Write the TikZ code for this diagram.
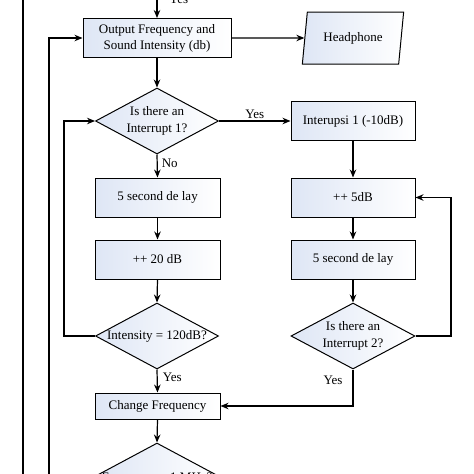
\documentclass[tikz,border=0pt]{standalone}
\usepackage{fontspec}
\setmainfont{Liberation Serif}
\usetikzlibrary{shapes.geometric,arrows.meta}
\definecolor{boxl}{RGB}{222,230,245}
\tikzset{
  every picture/.style={x=1pt,y=-1pt},
  flow/.style={line width=1.2pt,-{Stealth[length=8pt,width=6.5pt]}},
  plain/.style={line width=1.2pt},
  procbox/.style={draw,line width=1pt,left color=boxl,right color=white,minimum width=#1,inner sep=0pt,align=center,font=\fontsize{13}{16}\selectfont},
  decbox/.style={draw,line width=1pt,diamond,left color=boxl,right color=white,minimum width=123pt,minimum height=66pt,inner sep=0pt,aspect=1.85},
  dtext/.style={align=center,font=\fontsize{13}{17}\selectfont,inner sep=0pt},
  lbl/.style={font=\fontsize{13}{15}\selectfont,inner sep=1pt}
}
\begin{document}
\begin{tikzpicture}
\useasboundingbox (0,0) rectangle (474,474);
\clip (0,0) rectangle (474,474);
% nodes
\node[procbox=148pt,minimum height=39pt] (out) at (157,38) {Output Frequency and\\Sound Intensity (db)};
\node[draw,line width=1pt,trapezium,trapezium left angle=79,trapezium right angle=101,trapezium stretches=true,minimum width=102pt,minimum height=52pt,left color=boxl,right color=white,font=\fontsize{13}{16}\selectfont] (head) at (353,38) {Headphone};
\node[decbox] (d1) at (157,121) {};
\node[dtext] (d1t) at (157,121) {Is there an\\Interrupt 1?};
\node[procbox=124pt,minimum height=39pt] (int1) at (353,121) {Interupsi 1 (-10dB)};
\node[procbox=125pt,minimum height=39pt] (dl1) at (157.5,197.5) {5 second de lay};
\node[procbox=124pt,minimum height=39pt] (add5) at (353,197.5) {++ 5dB};
\node[procbox=125pt,minimum height=39pt] (add20) at (157.5,259.5) {++ 20 dB};
\node[procbox=124pt,minimum height=39pt] (dl2) at (353,259.5) {5 second de lay};
\node[decbox] (d2) at (157,336) {};
\node[dtext] (d2t) at (157,336) {Intensity = 120dB?};
\node[decbox,minimum width=124pt] (d3) at (353,336) {};
\node[dtext] (d3t) at (353,336) {Is there an\\Interrupt 2?};
\node[procbox=125pt,minimum height=26pt] (cf) at (157.5,406) {Change Frequency};
\node[decbox] (d4) at (157,476) {};
\node[dtext] (d4t) at (157,479) {Frequency = 1 MHz?};
% free ends
\coordinate (topin) at (157,-2);
\coordinate (outerTop) at (23,-2);
\coordinate (outerBot) at (23,476);
\coordinate (midBot) at (49,476);
% connectors
\draw[flow] (topin) -- (out.north);
\node[lbl,anchor=west] at (168,-1) {Yes};
\draw[flow] (out.east) -- (head);
\draw[flow] (out.south) -- (d1.north);
\draw[flow] (d1.east) -- node[lbl,above=1pt] {Yes} (int1.west);
\draw[flow] (d1.south) -- node[lbl,right=3pt,pos=0.4] {No} (dl1.north);
\draw[flow] (dl1.south) -- (add20.north);
\draw[flow] (add20.south) -- (d2.north);
\draw[flow] (d2.south) -- node[lbl,right=4pt,pos=0.35] {Yes} (cf.north);
\draw[flow] (d2.west) -- (64,336) |- (d1.west);
\draw[flow] (int1.south) -- (add5.north);
\draw[flow] (add5.south) -- (dl2.north);
\draw[flow] (dl2.south) -- (d3.north);
\draw[flow] (d3.east) -- (451,336) |- (add5.east);
\draw[flow] (d3.south) |- (cf.east);
\node[lbl] at (333,380) {Yes};
\draw[flow] (cf.south) -- (d4.north);
\draw[flow] (midBot) |- (out.west);
\draw[plain] (outerTop) -- (outerBot);
\end{tikzpicture}
\end{document}
